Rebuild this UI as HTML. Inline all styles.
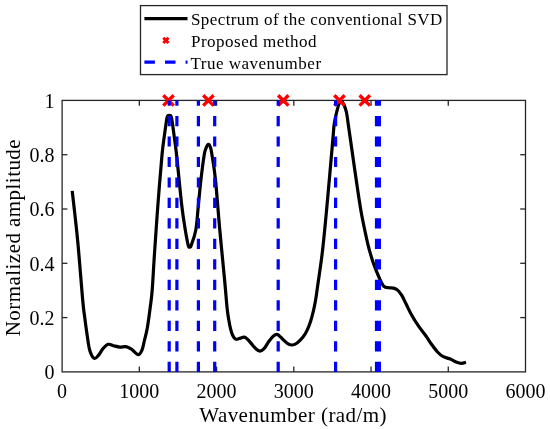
<!DOCTYPE html>
<html><head><meta charset="utf-8"><style>
html,body{margin:0;padding:0;background:#fff;}
svg{display:block;}
.t{font-family:"Liberation Serif",serif;font-size:20px;fill:#000;}
.l{font-family:"Liberation Serif",serif;font-size:21px;letter-spacing:0.45px;fill:#000;}
.g{font-family:"Liberation Serif",serif;font-size:17px;letter-spacing:0.5px;fill:#000;}
</style></head><body>
<svg width="550" height="429" viewBox="0 0 550 429">
<rect width="550" height="429" fill="#fff"/>
<rect x="62.1" y="100.4" width="463.4" height="271.5" fill="none" stroke="#262626" stroke-width="1.3"/>
<line x1="139.33" y1="371.9" x2="139.33" y2="366.59999999999997" stroke="#262626" stroke-width="1.3"/>
<line x1="139.33" y1="100.4" x2="139.33" y2="105.7" stroke="#262626" stroke-width="1.3"/>
<line x1="216.57" y1="371.9" x2="216.57" y2="366.59999999999997" stroke="#262626" stroke-width="1.3"/>
<line x1="216.57" y1="100.4" x2="216.57" y2="105.7" stroke="#262626" stroke-width="1.3"/>
<line x1="293.80" y1="371.9" x2="293.80" y2="366.59999999999997" stroke="#262626" stroke-width="1.3"/>
<line x1="293.80" y1="100.4" x2="293.80" y2="105.7" stroke="#262626" stroke-width="1.3"/>
<line x1="371.03" y1="371.9" x2="371.03" y2="366.59999999999997" stroke="#262626" stroke-width="1.3"/>
<line x1="371.03" y1="100.4" x2="371.03" y2="105.7" stroke="#262626" stroke-width="1.3"/>
<line x1="448.27" y1="371.9" x2="448.27" y2="366.59999999999997" stroke="#262626" stroke-width="1.3"/>
<line x1="448.27" y1="100.4" x2="448.27" y2="105.7" stroke="#262626" stroke-width="1.3"/>
<line x1="62.1" y1="317.60" x2="67.4" y2="317.60" stroke="#262626" stroke-width="1.3"/>
<line x1="525.5" y1="317.60" x2="520.2" y2="317.60" stroke="#262626" stroke-width="1.3"/>
<line x1="62.1" y1="263.30" x2="67.4" y2="263.30" stroke="#262626" stroke-width="1.3"/>
<line x1="525.5" y1="263.30" x2="520.2" y2="263.30" stroke="#262626" stroke-width="1.3"/>
<line x1="62.1" y1="209.00" x2="67.4" y2="209.00" stroke="#262626" stroke-width="1.3"/>
<line x1="525.5" y1="209.00" x2="520.2" y2="209.00" stroke="#262626" stroke-width="1.3"/>
<line x1="62.1" y1="154.70" x2="67.4" y2="154.70" stroke="#262626" stroke-width="1.3"/>
<line x1="525.5" y1="154.70" x2="520.2" y2="154.70" stroke="#262626" stroke-width="1.3"/>
<path d="M72.20,190.90 C73.10,199.08 75.85,221.82 77.60,240.00 C79.35,258.18 81.50,287.00 82.70,300.00 C83.90,313.00 84.05,312.08 84.80,318.00 C85.55,323.92 86.37,330.08 87.20,335.50 C88.03,340.92 88.62,346.68 89.80,350.50 C90.98,354.32 92.77,357.72 94.30,358.40 C95.83,359.08 97.55,356.23 99.00,354.60 C100.45,352.97 101.47,350.32 103.00,348.60 C104.53,346.88 106.43,344.78 108.20,344.30 C109.97,343.82 111.67,345.23 113.60,345.70 C115.53,346.17 117.75,346.95 119.80,347.10 C121.85,347.25 123.97,346.27 125.90,346.60 C127.83,346.93 129.35,347.77 131.40,349.10 C133.45,350.43 136.43,354.45 138.20,354.60 C139.97,354.75 140.98,352.27 142.00,350.00 C143.02,347.73 143.42,344.67 144.30,341.00 C145.18,337.33 146.28,333.83 147.30,328.00 C148.32,322.17 149.58,312.33 150.40,306.00 C151.22,299.67 151.53,298.50 152.20,290.00 C152.87,281.50 153.45,269.17 154.40,255.00 C155.35,240.83 156.63,221.67 157.90,205.00 C159.17,188.33 160.88,166.82 162.00,155.00 C163.12,143.18 163.93,139.27 164.60,134.10 C165.27,128.93 165.55,126.92 166.00,124.00 C166.45,121.08 166.75,118.05 167.30,116.60 C167.85,115.15 168.65,115.30 169.30,115.30 C169.95,115.30 170.67,115.15 171.20,116.60 C171.73,118.05 172.05,121.08 172.50,124.00 C172.95,126.92 173.22,128.93 173.90,134.10 C174.58,139.27 175.30,143.18 176.60,155.00 C177.90,166.82 180.25,192.50 181.70,205.00 C183.15,217.50 184.20,223.23 185.30,230.00 C186.40,236.77 187.57,242.83 188.30,245.60 C189.03,248.37 189.23,246.60 189.70,246.60 C190.17,246.60 190.08,248.37 191.10,245.60 C192.12,242.83 194.58,236.77 195.80,230.00 C197.02,223.23 197.55,213.33 198.40,205.00 C199.25,196.67 199.93,188.33 200.90,180.00 C201.87,171.67 203.30,160.42 204.20,155.00 C205.10,149.58 205.60,149.28 206.30,147.50 C207.00,145.72 207.70,144.30 208.40,144.30 C209.10,144.30 209.90,145.72 210.50,147.50 C211.10,149.28 211.17,149.58 212.00,155.00 C212.83,160.42 214.20,167.50 215.50,180.00 C216.80,192.50 218.28,213.33 219.80,230.00 C221.32,246.67 223.38,267.00 224.60,280.00 C225.82,293.00 226.40,301.33 227.10,308.00 C227.80,314.67 228.23,316.55 228.80,320.00 C229.37,323.45 229.87,326.15 230.50,328.70 C231.13,331.25 231.75,333.57 232.60,335.30 C233.45,337.03 234.50,338.57 235.60,339.10 C236.70,339.63 237.78,338.82 239.20,338.50 C240.62,338.18 242.72,337.07 244.10,337.20 C245.48,337.33 246.32,338.27 247.50,339.30 C248.68,340.33 249.87,341.88 251.20,343.40 C252.53,344.92 254.05,347.12 255.50,348.40 C256.95,349.68 258.43,351.10 259.90,351.10 C261.37,351.10 262.85,349.95 264.30,348.40 C265.75,346.85 267.15,343.80 268.60,341.80 C270.05,339.80 271.67,337.65 273.00,336.40 C274.33,335.15 275.57,334.42 276.60,334.30 C277.63,334.18 278.07,334.77 279.20,335.70 C280.33,336.63 282.00,338.58 283.40,339.90 C284.80,341.22 286.08,342.75 287.60,343.60 C289.12,344.45 290.87,345.15 292.50,345.00 C294.13,344.85 295.65,344.02 297.40,342.70 C299.15,341.38 301.37,339.20 303.00,337.10 C304.63,335.00 305.92,332.78 307.20,330.10 C308.48,327.42 309.65,324.27 310.70,321.00 C311.75,317.73 312.68,314.00 313.50,310.50 C314.32,307.00 314.93,303.92 315.60,300.00 C316.27,296.08 316.33,295.33 317.50,287.00 C318.67,278.67 320.93,264.50 322.60,250.00 C324.27,235.50 325.80,218.33 327.50,200.00 C329.20,181.67 331.68,152.65 332.80,140.00 C333.92,127.35 333.57,128.68 334.20,124.10 C334.83,119.52 335.83,115.77 336.60,112.50 C337.37,109.23 338.03,106.38 338.80,104.50 C339.57,102.62 340.37,101.20 341.20,101.20 C342.03,101.20 342.92,102.62 343.80,104.50 C344.68,106.38 345.77,109.23 346.50,112.50 C347.23,115.77 347.53,119.52 348.20,124.10 C348.87,128.68 348.92,129.02 350.50,140.00 C352.08,150.98 355.83,177.50 357.70,190.00 C359.57,202.50 360.17,206.67 361.70,215.00 C363.23,223.33 365.67,234.33 366.90,240.00 C368.13,245.67 368.03,245.17 369.10,249.00 C370.17,252.83 371.67,258.33 373.30,263.00 C374.93,267.67 377.15,273.12 378.90,277.00 C380.65,280.88 382.08,284.52 383.80,286.30 C385.52,288.08 387.60,287.40 389.20,287.70 C390.80,288.00 392.00,287.70 393.40,288.10 C394.80,288.50 396.20,288.88 397.60,290.10 C399.00,291.32 400.40,293.12 401.80,295.40 C403.20,297.68 404.37,300.53 406.00,303.80 C407.63,307.07 409.50,311.27 411.60,315.00 C413.70,318.73 416.23,322.73 418.60,326.20 C420.97,329.67 423.62,332.75 425.80,335.80 C427.98,338.85 429.75,341.80 431.70,344.50 C433.65,347.20 435.57,349.97 437.50,352.00 C439.43,354.03 441.17,355.53 443.30,356.70 C445.43,357.87 448.17,358.12 450.30,359.00 C452.43,359.88 454.25,361.27 456.10,362.00 C457.95,362.73 459.75,363.37 461.40,363.40 C463.05,363.43 465.23,362.40 466.00,362.20" fill="none" stroke="#000" stroke-width="3.2" stroke-linejoin="round" stroke-linecap="butt"/>
<path d="M163.30,95.20 L173.70,105.60 M163.30,105.60 L173.70,95.20" stroke="#ff0000" stroke-width="3.4" fill="none"/>
<path d="M203.20,95.20 L213.60,105.60 M203.20,105.60 L213.60,95.20" stroke="#ff0000" stroke-width="3.4" fill="none"/>
<path d="M278.10,95.20 L288.50,105.60 M278.10,105.60 L288.50,95.20" stroke="#ff0000" stroke-width="3.4" fill="none"/>
<path d="M334.30,95.20 L344.70,105.60 M334.30,105.60 L344.70,95.20" stroke="#ff0000" stroke-width="3.4" fill="none"/>
<path d="M359.60,95.20 L370.00,105.60 M359.60,105.60 L370.00,95.20" stroke="#ff0000" stroke-width="3.4" fill="none"/>
<line x1="169.2" y1="371.9" x2="169.2" y2="100.4" stroke="#0000ff" stroke-width="3.2" stroke-dasharray="10.2 10.28"/>
<line x1="176.9" y1="371.9" x2="176.9" y2="100.4" stroke="#0000ff" stroke-width="3.2" stroke-dasharray="10.2 10.28"/>
<line x1="198.4" y1="371.9" x2="198.4" y2="100.4" stroke="#0000ff" stroke-width="3.2" stroke-dasharray="10.2 10.28"/>
<line x1="214.7" y1="371.9" x2="214.7" y2="100.4" stroke="#0000ff" stroke-width="3.2" stroke-dasharray="10.2 10.28"/>
<line x1="278.2" y1="371.9" x2="278.2" y2="100.4" stroke="#0000ff" stroke-width="3.2" stroke-dasharray="10.2 10.28"/>
<line x1="335.6" y1="371.9" x2="335.6" y2="100.4" stroke="#0000ff" stroke-width="3.2" stroke-dasharray="10.2 10.28"/>
<line x1="376.5" y1="371.9" x2="376.5" y2="100.4" stroke="#0000ff" stroke-width="3.2" stroke-dasharray="10.2 10.28"/>
<line x1="379.4" y1="371.9" x2="379.4" y2="100.4" stroke="#0000ff" stroke-width="3.2" stroke-dasharray="10.2 10.28"/>
<text x="62.10" y="397.8" text-anchor="middle" class="t">0</text>
<text x="139.33" y="397.8" text-anchor="middle" class="t">1000</text>
<text x="216.57" y="397.8" text-anchor="middle" class="t">2000</text>
<text x="293.80" y="397.8" text-anchor="middle" class="t">3000</text>
<text x="371.03" y="397.8" text-anchor="middle" class="t">4000</text>
<text x="448.27" y="397.8" text-anchor="middle" class="t">5000</text>
<text x="525.50" y="397.8" text-anchor="middle" class="t">6000</text>
<text x="54.5" y="379.30" text-anchor="end" class="t">0</text>
<text x="54.5" y="325.00" text-anchor="end" class="t">0.2</text>
<text x="54.5" y="270.70" text-anchor="end" class="t">0.4</text>
<text x="54.5" y="216.40" text-anchor="end" class="t">0.6</text>
<text x="54.5" y="162.10" text-anchor="end" class="t">0.8</text>
<text x="54.5" y="107.80" text-anchor="end" class="t">1</text>
<text x="293.2" y="422.3" text-anchor="middle" class="l">Wavenumber (rad/m)</text>
<text transform="translate(20.3,237.6) rotate(-90)" x="0" y="0" text-anchor="middle" class="l">Normalized amplitude</text>
<rect x="140.5" y="5.6" width="306.5" height="69" fill="#fff" stroke="#262626" stroke-width="1.3"/>
<line x1="144.4" y1="18.7" x2="187.5" y2="18.7" stroke="#000" stroke-width="3.2"/>
<path d="M163.3,37.8 L168.5,43.0 M163.3,43.0 L168.5,37.8" stroke="#ff0000" stroke-width="3" fill="none"/>
<line x1="144.4" y1="62.1" x2="187.5" y2="62.1" stroke="#0000ff" stroke-width="3.2" stroke-dasharray="10.5 10.1"/>
<text x="191" y="25.3" class="g" style="letter-spacing:0.4px">Spectrum of the conventional SVD</text>
<text x="191" y="47.1" class="g">Proposed method</text>
<text x="190.5" y="69.0" class="g">True wavenumber</text>
</svg>
</body></html>
